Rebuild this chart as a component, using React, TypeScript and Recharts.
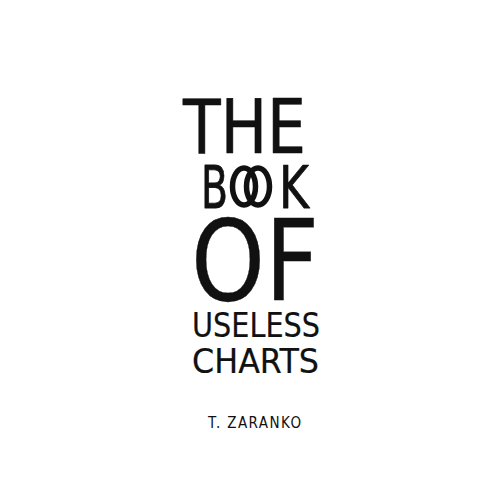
import React from 'react';
import { ScatterChart, Scatter, XAxis, YAxis } from 'recharts';

// cover lines, placed on a 0..500 grid
const lines = ['THE', 'B', 'K', 'OF', 'USELESS', 'CHARTS', 'T. ZARANKO'];
const lineX = [183, 201, 279, 191, 192, 192, 208];
const lineY = [153, 208, 208, 300, 337, 373, 428];

// the two linked O's of BOOK
const rings = ['O', 'O'];
const ringX = [244, 258];
const ringY = [186.5, 186.5];

const ink = '#111';

const lineStyle: Record<string, { size: number; len: number; stroke: number; squash: boolean }> = {
    'THE': { size: 74, len: 123, stroke: 0.6, squash: true },
    'B': { size: 59, len: 27, stroke: 0.8, squash: true },
    'K': { size: 59, len: 30, stroke: 0.8, squash: true },
    'OF': { size: 112, len: 128, stroke: 0.4, squash: true },
    'USELESS': { size: 34, len: 128, stroke: 0.2, squash: true },
    'CHARTS': { size: 34, len: 127, stroke: 0.2, squash: true },
    'T. ZARANKO': { size: 15, len: 93, stroke: 0, squash: false },
};

const textData = lines.map((text, i) => ({ x: lineX[i], y: lineY[i], text }));
const ringData = rings.map((name, i) => ({ x: ringX[i], y: ringY[i], name }));

const WordShape = (props: any) => {
    const { cx, cy, payload } = props;
    const s = lineStyle[payload.text];
    return (
        <text
            x={cx}
            y={cy}
            fontFamily="'DejaVu Sans Condensed', 'DejaVu Sans', sans-serif"
            fontSize={s.size}
            fill={ink}
            stroke={ink}
            strokeWidth={s.stroke}
            strokeLinejoin="round"
            textLength={s.len}
            lengthAdjust={s.squash ? 'spacingAndGlyphs' : 'spacing'}
        >
            {payload.text}
        </text>
    );
};

const RingShape = (props: any) => {
    const { cx, cy } = props;
    return <ellipse cx={cx} cy={cy} rx={11.5} ry={18.5} fill="none" stroke={ink} strokeWidth={5.5} />;
};

export default function App() {
    return (
        <div style={{ position: 'absolute', left: 0, top: 0, width: 500, height: 500, background: '#fff' }}>
            <ScatterChart width={500} height={500} margin={{ top: 0, right: 0, bottom: 0, left: 0 }}>
                <XAxis type="number" dataKey="x" domain={[0, 500]} hide />
                <YAxis type="number" dataKey="y" domain={[0, 500]} reversed hide />
                <Scatter data={ringData} shape={RingShape} isAnimationActive={false} />
                <Scatter data={textData} shape={WordShape} isAnimationActive={false} />
            </ScatterChart>
        </div>
    );
}
